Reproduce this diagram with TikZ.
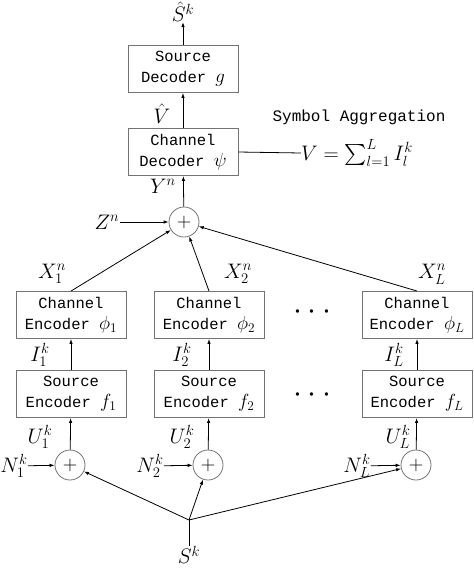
\RequirePackage{fix-cm}
\documentclass[tikz,border=0pt]{standalone}
\usepackage{amsmath}
\usepackage{amssymb}
\usepackage{fontspec}
\setmonofont{Liberation Mono}
\usepackage{tikz}
\usetikzlibrary{arrows.meta}

\newcommand{\bmath}[1]{{\fontsize{19}{21}\selectfont$#1$}}

\begin{document}
\begin{tikzpicture}[x=1pt, y=-1pt,
  block/.style={draw=black!55, line width=0.9pt, minimum width=110pt, minimum height=47pt, align=center, inner sep=1pt, font=\ttfamily\fontsize{15.5}{21}\selectfont},
  adder/.style={circle, draw=black!55, line width=0.8pt, minimum size=30pt, inner sep=0pt, font=\fontsize{20}{20}\selectfont},
  lbl/.style={inner sep=0pt, font=\fontsize{21}{24}\selectfont},
  arr/.style={line width=0.8pt, -{Latex[length=5pt,width=3.5pt]}},
  ln/.style={line width=0.8pt},
  dotrow/.style={inner sep=0pt, font=\fontsize{32}{32}\selectfont}]
\useasboundingbox (0,0) rectangle (474,568);

% receiver side
\node[block] (sdec) at (183,69) {Source\\Decoder \bmath{g}};
\node[block] (cdec) at (183,152) {Channel\\Decoder \bmath{\psi}};
\node[adder] (sum) at (184,222) {$+$};
\node[lbl] (shat) at (183,12) {$\hat{S}^k$};
\node[lbl] (vhat) at (162,114) {$\hat{V}$};
\node[lbl] (yn) at (163,186) {$Y^n$};
\node[lbl] (zn) at (107,222) {$Z^n$};
\node[inner sep=0pt, font=\ttfamily\fontsize{16}{18}\selectfont] (agg) at (359,117) {Symbol Aggregation};
\node[lbl, anchor=west] (vsum) at (301,153) {$V=\sum_{l=1}^{L} I_l^k$};

\draw[arr] (sdec) -- (shat);
\draw[arr] (cdec) -- (sdec);
\draw[arr] (sum) -- (cdec);
\draw[arr] (zn) -- (sum);
\draw[ln] (cdec.east) -- (vsum.west);

% encoders
\node[block] (cenc1) at (71,315) {Channel\\Encoder \bmath{\phi_1}};
\node[block] (cenc2) at (209,315) {Channel\\Encoder \bmath{\phi_2}};
\node[block] (cencL) at (417,315) {Channel\\Encoder \bmath{\phi_L}};
\node[block] (senc1) at (71,394) {Source\\Encoder \bmath{f_1}};
\node[block] (senc2) at (209,394) {Source\\Encoder \bmath{f_2}};
\node[block] (sencL) at (417,394) {Source\\Encoder \bmath{f_L}};
\node[adder] (add1) at (70,465) {$+$};
\node[adder] (add2) at (208,465) {$+$};
\node[adder] (addL) at (416,465) {$+$};

\node[lbl] (x1) at (52,274) {$X_1^n$};
\node[lbl] (x2) at (238,274) {$X_2^n$};
\node[lbl] (xL) at (432,274) {$X_L^n$};
\node[lbl] (i1) at (40,355) {$I_1^k$};
\node[lbl] (i2) at (182,355) {$I_2^k$};
\node[lbl] (iL) at (394,355) {$I_L^k$};
\node[lbl] (u1) at (40,437) {$U_1^k$};
\node[lbl] (u2) at (182,437) {$U_2^k$};
\node[lbl] (uL) at (398,437) {$U_L^k$};
\node[lbl] (n1) at (14,466) {$N_1^k$};
\node[lbl] (n2) at (150,466) {$N_2^k$};
\node[lbl] (nL) at (357,466) {$N_L^k$};
\node[lbl] (sk) at (189,555) {$S^k$};
\coordinate (jn) at (189,520);

\node[dotrow] (dots1) at (315,312) {$\cdots$};
\node[dotrow] (dots2) at (315,395) {$\cdots$};

\draw[arr] (cenc1.north) -- (sum);
\draw[arr] (cenc2.north) -- (sum);
\draw[arr] (cencL.north) -- (sum);
\draw[arr] (senc1) -- (cenc1);
\draw[arr] (senc2) -- (cenc2);
\draw[arr] (sencL) -- (cencL);
\draw[arr] (add1) -- (senc1);
\draw[arr] (add2) -- (senc2);
\draw[arr] (addL) -- (sencL);
\draw[arr] (n1) -- (add1);
\draw[arr] (n2) -- (add2);
\draw[arr] (nL) -- (addL);

\draw[ln] (sk) -- (jn);
\draw[arr] (jn) -- (add1);
\draw[arr] (jn) -- (add2);
\draw[arr] (jn) -- (addL);
\end{tikzpicture}
\end{document}
